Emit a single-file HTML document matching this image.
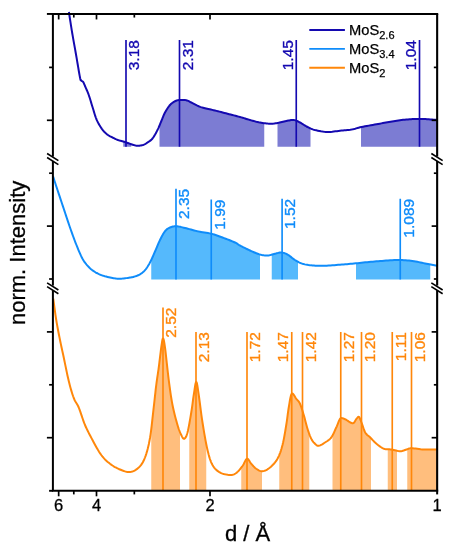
<!DOCTYPE html>
<html><head><meta charset="utf-8"><title>XRD pattern</title>
<style>html,body{margin:0;padding:0;background:#fff}svg{display:block}</style>
</head><body>
<svg width="452" height="550" viewBox="0 0 452 550" font-family="'Liberation Sans', Arial, sans-serif">
<rect width="452" height="550" fill="#fff"/>
<g id="navy">
<path d="M123.25,146.75 L123.25,141.49 L124.11,141.73 L125.00,142.00 L125.89,142.30 L126.80,142.62 L127.71,142.95 L128.62,143.29 L129.52,143.63 L130.39,143.95 L131.22,144.24 L131.25,144.25 L131.25,146.75Z" fill="#7C7CD3"/>
<path d="M159.50,146.75 L159.50,125.53 L159.90,124.54 L160.34,123.44 L160.79,122.35 L161.25,121.25 L161.71,120.15 L162.16,119.03 L162.60,117.91 L163.05,116.80 L163.50,115.69 L163.97,114.60 L164.47,113.53 L165.00,112.50 L165.57,111.48 L166.16,110.45 L166.78,109.43 L167.42,108.44 L168.07,107.48 L168.72,106.58 L169.37,105.75 L170.00,105.00 L170.63,104.33 L171.26,103.74 L171.90,103.21 L172.53,102.73 L173.16,102.31 L173.79,101.92 L174.40,101.57 L175.00,101.25 L175.57,100.96 L176.11,100.73 L176.63,100.53 L177.14,100.38 L177.67,100.25 L178.23,100.15 L178.83,100.07 L179.50,100.00 L180.25,99.95 L181.07,99.91 L181.94,99.90 L182.84,99.91 L183.75,99.94 L184.63,100.01 L185.47,100.11 L186.25,100.25 L186.94,100.43 L187.56,100.64 L188.14,100.88 L188.70,101.16 L189.27,101.46 L189.87,101.79 L190.52,102.13 L191.25,102.50 L192.08,102.91 L192.98,103.37 L193.93,103.87 L194.92,104.39 L195.92,104.91 L196.90,105.40 L197.86,105.85 L198.75,106.25 L199.57,106.58 L200.31,106.87 L201.02,107.12 L201.72,107.34 L202.44,107.56 L203.20,107.77 L204.05,108.00 L205.00,108.25 L206.05,108.51 L207.18,108.77 L208.37,109.03 L209.61,109.30 L210.90,109.57 L212.24,109.86 L213.60,110.17 L215.00,110.50 L216.44,110.86 L217.95,111.24 L219.50,111.65 L221.09,112.06 L222.70,112.49 L224.32,112.91 L225.92,113.34 L227.50,113.75 L229.08,114.16 L230.68,114.57 L232.30,114.98 L233.91,115.39 L235.50,115.80 L237.05,116.21 L238.56,116.61 L240.00,117.00 L241.37,117.39 L242.68,117.78 L243.93,118.17 L245.16,118.55 L246.36,118.92 L247.56,119.29 L248.77,119.65 L250.00,120.00 L251.25,120.34 L252.50,120.69 L253.75,121.03 L255.00,121.36 L256.25,121.68 L257.50,121.97 L258.75,122.25 L260.00,122.50 L261.27,122.73 L262.56,122.95 L263.86,123.15 L264.25,123.20 L264.25,146.75Z" fill="#7C7CD3"/>
<path d="M277.50,146.75 L277.50,123.00 L278.54,122.80 L279.63,122.56 L280.74,122.30 L281.88,122.02 L283.01,121.73 L284.12,121.46 L285.21,121.21 L286.25,121.00 L287.26,120.80 L288.24,120.60 L289.21,120.40 L290.16,120.22 L291.08,120.07 L291.99,119.98 L292.88,119.95 L293.75,120.00 L294.58,120.13 L295.37,120.33 L296.13,120.59 L296.88,120.91 L297.62,121.26 L298.38,121.65 L299.17,122.07 L300.00,122.50 L300.88,122.98 L301.79,123.52 L302.72,124.11 L303.67,124.72 L304.63,125.33 L305.60,125.93 L306.55,126.50 L307.50,127.00 L308.40,127.45 L309.26,127.88 L310.09,128.28 L310.50,128.46 L310.50,146.75Z" fill="#7C7CD3"/>
<path d="M361.00,146.75 L361.00,127.11 L361.50,127.00 L363.15,126.66 L364.96,126.32 L366.87,125.97 L368.84,125.61 L370.84,125.26 L372.81,124.91 L374.71,124.57 L376.50,124.25 L378.18,123.94 L379.80,123.65 L381.37,123.36 L382.91,123.08 L384.42,122.80 L385.93,122.53 L387.45,122.27 L389.00,122.00 L390.56,121.73 L392.12,121.46 L393.69,121.19 L395.25,120.92 L396.81,120.67 L398.38,120.42 L399.94,120.20 L401.50,120.00 L403.08,119.82 L404.68,119.66 L406.30,119.51 L407.91,119.38 L409.50,119.26 L411.05,119.16 L412.56,119.07 L414.00,119.00 L415.35,118.95 L416.61,118.91 L417.80,118.88 L418.97,118.88 L420.14,118.88 L421.35,118.91 L422.62,118.95 L424.00,119.00 L425.48,119.08 L427.04,119.18 L428.66,119.30 L430.31,119.44 L431.99,119.58 L433.68,119.73 L435.35,119.87 L437.00,120.00 L437.00,146.75Z" fill="#7C7CD3"/>
<path d="M68.90,12.00 L69.31,14.62 L69.71,17.23 L70.11,19.83 L70.51,22.44 L70.92,25.05 L71.33,27.68 L71.76,30.33 L72.20,33.00 L72.66,35.70 L73.13,38.42 L73.62,41.15 L74.11,43.91 L74.61,46.67 L75.11,49.44 L75.61,52.22 L76.10,55.00 L76.61,57.92 L77.14,61.05 L77.68,64.26 L78.22,67.44 L78.73,70.47 L79.21,73.23 L79.64,75.62 L80.00,77.50 L80.28,78.82 L80.48,79.66 L80.63,80.12 L80.75,80.31 L80.85,80.34 L80.95,80.31 L81.08,80.33 L81.25,80.50 L81.46,80.74 L81.69,80.92 L81.94,81.06 L82.19,81.19 L82.45,81.32 L82.71,81.48 L82.96,81.70 L83.20,82.00 L83.42,82.35 L83.61,82.71 L83.80,83.10 L83.99,83.53 L84.19,84.02 L84.42,84.59 L84.68,85.24 L85.00,86.00 L85.38,86.87 L85.80,87.83 L86.26,88.88 L86.75,90.00 L87.26,91.19 L87.77,92.42 L88.27,93.70 L88.75,95.00 L89.22,96.36 L89.69,97.79 L90.16,99.29 L90.62,100.83 L91.09,102.39 L91.56,103.95 L92.03,105.49 L92.50,107.00 L92.97,108.51 L93.44,110.06 L93.91,111.62 L94.38,113.17 L94.84,114.68 L95.31,116.13 L95.78,117.50 L96.25,118.75 L96.72,119.89 L97.19,120.93 L97.66,121.89 L98.12,122.78 L98.59,123.63 L99.06,124.43 L99.53,125.22 L100.00,126.00 L100.47,126.76 L100.93,127.49 L101.38,128.18 L101.84,128.84 L102.31,129.48 L102.78,130.09 L103.26,130.68 L103.75,131.25 L104.26,131.80 L104.77,132.32 L105.30,132.82 L105.83,133.30 L106.37,133.75 L106.91,134.19 L107.45,134.60 L108.00,135.00 L108.54,135.37 L109.08,135.71 L109.63,136.03 L110.17,136.33 L110.73,136.62 L111.30,136.90 L111.89,137.20 L112.50,137.50 L113.13,137.82 L113.77,138.14 L114.42,138.46 L115.09,138.78 L115.78,139.10 L116.50,139.41 L117.23,139.71 L118.00,140.00 L118.80,140.27 L119.64,140.52 L120.52,140.76 L121.41,141.00 L122.31,141.24 L123.21,141.48 L124.11,141.73 L125.00,142.00 L125.89,142.30 L126.80,142.62 L127.71,142.95 L128.62,143.29 L129.52,143.63 L130.39,143.95 L131.22,144.24 L132.00,144.50 L132.73,144.73 L133.44,144.94 L134.11,145.14 L134.75,145.32 L135.36,145.48 L135.94,145.61 L136.48,145.72 L137.00,145.80 L137.47,145.85 L137.88,145.87 L138.25,145.86 L138.59,145.83 L138.93,145.78 L139.26,145.73 L139.61,145.66 L140.00,145.60 L140.41,145.54 L140.83,145.48 L141.25,145.41 L141.69,145.33 L142.13,145.24 L142.58,145.12 L143.04,144.98 L143.50,144.80 L143.97,144.60 L144.44,144.37 L144.92,144.12 L145.41,143.85 L145.90,143.55 L146.42,143.23 L146.95,142.88 L147.50,142.50 L148.08,142.11 L148.68,141.73 L149.30,141.32 L149.94,140.89 L150.58,140.40 L151.23,139.86 L151.87,139.23 L152.50,138.50 L153.13,137.65 L153.78,136.70 L154.43,135.65 L155.08,134.55 L155.72,133.40 L156.34,132.25 L156.93,131.11 L157.50,130.00 L158.03,128.92 L158.53,127.83 L159.00,126.74 L159.45,125.64 L159.90,124.54 L160.34,123.44 L160.79,122.35 L161.25,121.25 L161.71,120.15 L162.16,119.03 L162.60,117.91 L163.05,116.80 L163.50,115.69 L163.97,114.60 L164.47,113.53 L165.00,112.50 L165.57,111.48 L166.16,110.45 L166.78,109.43 L167.42,108.44 L168.07,107.48 L168.72,106.58 L169.37,105.75 L170.00,105.00 L170.63,104.33 L171.26,103.74 L171.90,103.21 L172.53,102.73 L173.16,102.31 L173.79,101.92 L174.40,101.57 L175.00,101.25 L175.57,100.96 L176.11,100.73 L176.63,100.53 L177.14,100.38 L177.67,100.25 L178.23,100.15 L178.83,100.07 L179.50,100.00 L180.25,99.95 L181.07,99.91 L181.94,99.90 L182.84,99.91 L183.75,99.94 L184.63,100.01 L185.47,100.11 L186.25,100.25 L186.94,100.43 L187.56,100.64 L188.14,100.88 L188.70,101.16 L189.27,101.46 L189.87,101.79 L190.52,102.13 L191.25,102.50 L192.08,102.91 L192.98,103.37 L193.93,103.87 L194.92,104.39 L195.92,104.91 L196.90,105.40 L197.86,105.85 L198.75,106.25 L199.57,106.58 L200.31,106.87 L201.02,107.12 L201.72,107.34 L202.44,107.56 L203.20,107.77 L204.05,108.00 L205.00,108.25 L206.05,108.51 L207.18,108.77 L208.37,109.03 L209.61,109.30 L210.90,109.57 L212.24,109.86 L213.60,110.17 L215.00,110.50 L216.44,110.86 L217.95,111.24 L219.50,111.65 L221.09,112.06 L222.70,112.49 L224.32,112.91 L225.92,113.34 L227.50,113.75 L229.08,114.16 L230.68,114.57 L232.30,114.98 L233.91,115.39 L235.50,115.80 L237.05,116.21 L238.56,116.61 L240.00,117.00 L241.37,117.39 L242.68,117.78 L243.93,118.17 L245.16,118.55 L246.36,118.92 L247.56,119.29 L248.77,119.65 L250.00,120.00 L251.25,120.34 L252.50,120.69 L253.75,121.03 L255.00,121.36 L256.25,121.68 L257.50,121.97 L258.75,122.25 L260.00,122.50 L261.27,122.73 L262.56,122.95 L263.86,123.15 L265.16,123.33 L266.43,123.48 L267.68,123.61 L268.87,123.70 L270.00,123.75 L271.05,123.76 L272.02,123.73 L272.94,123.67 L273.83,123.58 L274.71,123.46 L275.60,123.32 L276.52,123.17 L277.50,123.00 L278.54,122.80 L279.63,122.56 L280.74,122.30 L281.88,122.02 L283.01,121.73 L284.12,121.46 L285.21,121.21 L286.25,121.00 L287.26,120.80 L288.24,120.60 L289.21,120.40 L290.16,120.22 L291.08,120.07 L291.99,119.98 L292.88,119.95 L293.75,120.00 L294.58,120.13 L295.37,120.33 L296.13,120.59 L296.88,120.91 L297.62,121.26 L298.38,121.65 L299.17,122.07 L300.00,122.50 L300.88,122.98 L301.79,123.52 L302.72,124.11 L303.67,124.72 L304.63,125.33 L305.60,125.93 L306.55,126.50 L307.50,127.00 L308.40,127.45 L309.26,127.88 L310.09,128.28 L310.94,128.66 L311.82,129.01 L312.77,129.36 L313.82,129.68 L315.00,130.00 L316.32,130.32 L317.77,130.65 L319.32,130.97 L320.94,131.27 L322.59,131.53 L324.26,131.75 L325.90,131.91 L327.50,132.00 L329.07,132.00 L330.65,131.92 L332.23,131.77 L333.81,131.58 L335.39,131.36 L336.95,131.14 L338.49,130.93 L340.00,130.75 L341.50,130.60 L342.98,130.47 L344.45,130.34 L345.91,130.20 L347.34,130.06 L348.75,129.90 L350.14,129.72 L351.50,129.50 L352.79,129.25 L353.99,128.97 L355.14,128.67 L356.28,128.34 L357.45,128.01 L358.68,127.67 L360.02,127.33 L361.50,127.00 L363.15,126.66 L364.96,126.32 L366.87,125.97 L368.84,125.61 L370.84,125.26 L372.81,124.91 L374.71,124.57 L376.50,124.25 L378.18,123.94 L379.80,123.65 L381.37,123.36 L382.91,123.08 L384.42,122.80 L385.93,122.53 L387.45,122.27 L389.00,122.00 L390.56,121.73 L392.12,121.46 L393.69,121.19 L395.25,120.92 L396.81,120.67 L398.38,120.42 L399.94,120.20 L401.50,120.00 L403.08,119.82 L404.68,119.66 L406.30,119.51 L407.91,119.38 L409.50,119.26 L411.05,119.16 L412.56,119.07 L414.00,119.00 L415.35,118.95 L416.61,118.91 L417.80,118.88 L418.97,118.88 L420.14,118.88 L421.35,118.91 L422.62,118.95 L424.00,119.00 L425.48,119.08 L427.04,119.18 L428.66,119.30 L430.31,119.44 L431.99,119.58 L433.68,119.73 L435.35,119.87 L437.00,120.00" fill="none" stroke="#1409B0" stroke-width="2" stroke-linejoin="round" stroke-linecap="butt"/>
<line x1="126" x2="126" y1="40" y2="146.75" stroke="#1409B0" stroke-width="1.65"/>
<text transform="translate(139.30,40.10) rotate(-90)" text-anchor="end" font-size="15.5" fill="#1409B0" stroke="#1409B0" stroke-width="0.35">3.18</text>
<line x1="179.5" x2="179.5" y1="40" y2="146.75" stroke="#1409B0" stroke-width="1.65"/>
<text transform="translate(192.80,40.10) rotate(-90)" text-anchor="end" font-size="15.5" fill="#1409B0" stroke="#1409B0" stroke-width="0.35">2.31</text>
<line x1="296.25" x2="296.25" y1="40" y2="146.75" stroke="#1409B0" stroke-width="1.65"/>
<text transform="translate(292.85,40.10) rotate(-90)" text-anchor="end" font-size="15.5" fill="#1409B0" stroke="#1409B0" stroke-width="0.35">1.45</text>
<line x1="419.5" x2="419.5" y1="40" y2="146.75" stroke="#1409B0" stroke-width="1.65"/>
<text transform="translate(416.10,40.10) rotate(-90)" text-anchor="end" font-size="15.5" fill="#1409B0" stroke="#1409B0" stroke-width="0.35">1.04</text>
</g>
<g id="blue">
<path d="M151.25,279.50 L151.25,259.99 L151.88,258.64 L152.50,257.24 L153.12,255.81 L153.75,254.36 L154.38,252.92 L155.00,251.50 L155.62,250.07 L156.25,248.60 L156.88,247.10 L157.50,245.61 L158.12,244.13 L158.75,242.69 L159.38,241.31 L160.00,240.00 L160.62,238.74 L161.25,237.50 L161.88,236.30 L162.50,235.14 L163.12,234.04 L163.75,233.02 L164.38,232.09 L165.00,231.25 L165.62,230.52 L166.22,229.90 L166.82,229.37 L167.42,228.91 L168.03,228.50 L168.66,228.14 L169.32,227.81 L170.00,227.50 L170.70,227.20 L171.42,226.94 L172.14,226.72 L172.89,226.53 L173.67,226.39 L174.48,226.29 L175.34,226.25 L176.25,226.25 L177.20,226.31 L178.17,226.44 L179.18,226.62 L180.23,226.84 L181.33,227.10 L182.49,227.39 L183.71,227.69 L185.00,228.00 L186.37,228.34 L187.83,228.72 L189.36,229.14 L190.94,229.58 L192.56,230.02 L194.20,230.46 L195.85,230.87 L197.50,231.25 L199.18,231.59 L200.91,231.90 L202.67,232.19 L204.45,232.47 L206.22,232.75 L207.96,233.05 L209.64,233.38 L211.25,233.75 L212.77,234.15 L214.21,234.57 L215.60,235.01 L216.95,235.47 L218.30,235.95 L219.66,236.45 L221.05,236.96 L222.50,237.50 L224.05,238.08 L225.71,238.71 L227.43,239.37 L229.14,240.05 L230.81,240.72 L232.37,241.36 L233.79,241.96 L235.00,242.50 L235.95,242.96 L236.66,243.34 L237.20,243.68 L237.66,244.00 L238.09,244.32 L238.57,244.66 L239.19,245.04 L240.00,245.50 L241.01,246.04 L242.15,246.63 L243.38,247.27 L244.69,247.94 L246.03,248.61 L247.38,249.27 L248.72,249.91 L250.00,250.50 L251.27,251.07 L252.56,251.64 L253.86,252.21 L255.16,252.75 L256.43,253.26 L257.68,253.73 L258.87,254.15 L260.00,254.50 L260.00,279.50Z" fill="#55B9FC"/>
<path d="M271.75,279.50 L271.75,254.64 L272.28,254.49 L273.21,254.22 L274.12,253.96 L275.00,253.75 L275.84,253.55 L276.65,253.33 L277.44,253.10 L278.20,252.89 L278.96,252.71 L279.72,252.57 L280.48,252.50 L281.25,252.50 L282.02,252.57 L282.78,252.69 L283.54,252.86 L284.30,253.08 L285.06,253.35 L285.85,253.68 L286.66,254.06 L287.50,254.50 L288.38,255.03 L289.29,255.67 L290.22,256.38 L291.17,257.14 L292.13,257.91 L293.10,258.67 L294.05,259.37 L295.00,260.00 L295.92,260.57 L296.82,261.11 L297.70,261.62 L298.00,261.78 L298.00,279.50Z" fill="#55B9FC"/>
<path d="M356.00,279.50 L356.00,263.31 L357.68,263.14 L359.55,262.95 L361.44,262.75 L363.33,262.56 L365.23,262.36 L367.12,262.18 L369.00,262.00 L370.87,261.83 L372.72,261.66 L374.57,261.49 L376.42,261.33 L378.28,261.17 L380.16,261.02 L382.07,260.88 L384.00,260.75 L385.99,260.62 L388.03,260.48 L390.11,260.34 L392.20,260.22 L394.28,260.11 L396.33,260.04 L398.33,259.99 L400.25,260.00 L402.10,260.05 L403.89,260.14 L405.64,260.27 L407.36,260.42 L409.05,260.60 L410.71,260.80 L412.36,261.02 L414.00,261.25 L415.64,261.51 L417.26,261.80 L418.87,262.12 L420.45,262.45 L422.01,262.79 L423.54,263.13 L425.04,263.45 L426.50,263.75 L427.91,264.02 L429.27,264.29 L430.25,264.47 L430.25,279.50Z" fill="#55B9FC"/>
<path d="M53.00,176.25 L53.55,177.93 L54.08,179.57 L54.61,181.19 L55.14,182.81 L55.68,184.48 L56.25,186.21 L56.85,188.04 L57.50,190.00 L58.20,192.10 L58.94,194.34 L59.72,196.67 L60.52,199.06 L61.33,201.50 L62.15,203.95 L62.96,206.37 L63.75,208.75 L64.53,211.11 L65.31,213.48 L66.09,215.86 L66.88,218.23 L67.66,220.60 L68.44,222.94 L69.22,225.24 L70.00,227.50 L70.78,229.73 L71.56,231.94 L72.34,234.12 L73.12,236.28 L73.91,238.40 L74.69,240.48 L75.47,242.52 L76.25,244.50 L77.03,246.45 L77.81,248.40 L78.59,250.31 L79.38,252.17 L80.16,253.97 L80.94,255.67 L81.72,257.27 L82.50,258.75 L83.28,260.09 L84.06,261.31 L84.84,262.43 L85.62,263.45 L86.41,264.41 L87.19,265.31 L87.97,266.17 L88.75,267.00 L89.52,267.79 L90.28,268.51 L91.04,269.18 L91.80,269.80 L92.56,270.38 L93.35,270.93 L94.16,271.47 L95.00,272.00 L95.86,272.52 L96.73,273.00 L97.61,273.47 L98.52,273.91 L99.45,274.33 L100.42,274.73 L101.43,275.12 L102.50,275.50 L103.65,275.87 L104.88,276.24 L106.18,276.59 L107.50,276.92 L108.82,277.23 L110.12,277.52 L111.35,277.78 L112.50,278.00 L113.54,278.19 L114.49,278.36 L115.39,278.49 L116.25,278.60 L117.11,278.68 L118.01,278.74 L118.96,278.76 L120.00,278.75 L121.16,278.70 L122.44,278.60 L123.79,278.46 L125.16,278.30 L126.51,278.12 L127.79,277.94 L128.97,277.76 L130.00,277.60 L130.86,277.46 L131.60,277.32 L132.24,277.19 L132.81,277.06 L133.34,276.92 L133.87,276.76 L134.41,276.59 L135.00,276.40 L135.62,276.19 L136.25,275.99 L136.88,275.77 L137.50,275.53 L138.12,275.27 L138.75,274.99 L139.38,274.66 L140.00,274.30 L140.62,273.91 L141.25,273.50 L141.88,273.07 L142.50,272.60 L143.12,272.09 L143.75,271.53 L144.38,270.90 L145.00,270.20 L145.62,269.43 L146.25,268.61 L146.88,267.72 L147.50,266.78 L148.12,265.79 L148.75,264.74 L149.38,263.65 L150.00,262.50 L150.62,261.29 L151.25,259.99 L151.88,258.64 L152.50,257.24 L153.12,255.81 L153.75,254.36 L154.38,252.92 L155.00,251.50 L155.62,250.07 L156.25,248.60 L156.88,247.10 L157.50,245.61 L158.12,244.13 L158.75,242.69 L159.38,241.31 L160.00,240.00 L160.62,238.74 L161.25,237.50 L161.88,236.30 L162.50,235.14 L163.12,234.04 L163.75,233.02 L164.38,232.09 L165.00,231.25 L165.62,230.52 L166.22,229.90 L166.82,229.37 L167.42,228.91 L168.03,228.50 L168.66,228.14 L169.32,227.81 L170.00,227.50 L170.70,227.20 L171.42,226.94 L172.14,226.72 L172.89,226.53 L173.67,226.39 L174.48,226.29 L175.34,226.25 L176.25,226.25 L177.20,226.31 L178.17,226.44 L179.18,226.62 L180.23,226.84 L181.33,227.10 L182.49,227.39 L183.71,227.69 L185.00,228.00 L186.37,228.34 L187.83,228.72 L189.36,229.14 L190.94,229.58 L192.56,230.02 L194.20,230.46 L195.85,230.87 L197.50,231.25 L199.18,231.59 L200.91,231.90 L202.67,232.19 L204.45,232.47 L206.22,232.75 L207.96,233.05 L209.64,233.38 L211.25,233.75 L212.77,234.15 L214.21,234.57 L215.60,235.01 L216.95,235.47 L218.30,235.95 L219.66,236.45 L221.05,236.96 L222.50,237.50 L224.05,238.08 L225.71,238.71 L227.43,239.37 L229.14,240.05 L230.81,240.72 L232.37,241.36 L233.79,241.96 L235.00,242.50 L235.95,242.96 L236.66,243.34 L237.20,243.68 L237.66,244.00 L238.09,244.32 L238.57,244.66 L239.19,245.04 L240.00,245.50 L241.01,246.04 L242.15,246.63 L243.38,247.27 L244.69,247.94 L246.03,248.61 L247.38,249.27 L248.72,249.91 L250.00,250.50 L251.27,251.07 L252.56,251.64 L253.86,252.21 L255.16,252.75 L256.43,253.26 L257.68,253.73 L258.87,254.15 L260.00,254.50 L261.06,254.79 L262.05,255.03 L263.00,255.22 L263.91,255.36 L264.80,255.46 L265.68,255.51 L266.58,255.53 L267.50,255.50 L268.45,255.41 L269.40,255.24 L270.37,255.02 L271.33,254.77 L272.28,254.49 L273.21,254.22 L274.12,253.96 L275.00,253.75 L275.84,253.55 L276.65,253.33 L277.44,253.10 L278.20,252.89 L278.96,252.71 L279.72,252.57 L280.48,252.50 L281.25,252.50 L282.02,252.57 L282.78,252.69 L283.54,252.86 L284.30,253.08 L285.06,253.35 L285.85,253.68 L286.66,254.06 L287.50,254.50 L288.38,255.03 L289.29,255.67 L290.22,256.38 L291.17,257.14 L292.13,257.91 L293.10,258.67 L294.05,259.37 L295.00,260.00 L295.92,260.57 L296.82,261.11 L297.70,261.62 L298.59,262.11 L299.50,262.57 L300.45,262.99 L301.44,263.39 L302.50,263.75 L303.61,264.07 L304.77,264.36 L305.96,264.62 L307.19,264.84 L308.46,265.04 L309.77,265.21 L311.11,265.37 L312.50,265.50 L313.93,265.61 L315.39,265.70 L316.89,265.76 L318.44,265.80 L320.02,265.82 L321.64,265.81 L323.30,265.79 L325.00,265.75 L326.76,265.68 L328.60,265.58 L330.49,265.46 L332.41,265.32 L334.34,265.16 L336.26,265.00 L338.16,264.85 L340.00,264.70 L341.79,264.56 L343.55,264.42 L345.28,264.27 L347.00,264.13 L348.72,263.98 L350.45,263.82 L352.21,263.67 L354.00,263.50 L355.83,263.33 L357.68,263.14 L359.55,262.95 L361.44,262.75 L363.33,262.56 L365.23,262.36 L367.12,262.18 L369.00,262.00 L370.87,261.83 L372.72,261.66 L374.57,261.49 L376.42,261.33 L378.28,261.17 L380.16,261.02 L382.07,260.88 L384.00,260.75 L385.99,260.62 L388.03,260.48 L390.11,260.34 L392.20,260.22 L394.28,260.11 L396.33,260.04 L398.33,259.99 L400.25,260.00 L402.10,260.05 L403.89,260.14 L405.64,260.27 L407.36,260.42 L409.05,260.60 L410.71,260.80 L412.36,261.02 L414.00,261.25 L415.64,261.51 L417.26,261.80 L418.87,262.12 L420.45,262.45 L422.01,262.79 L423.54,263.13 L425.04,263.45 L426.50,263.75 L427.91,264.02 L429.27,264.29 L430.58,264.54 L431.88,264.78 L433.15,265.02 L434.42,265.26 L435.70,265.50 L437.00,265.75" fill="none" stroke="#0F8CFA" stroke-width="2" stroke-linejoin="round" stroke-linecap="butt"/>
<line x1="176" x2="176" y1="188.75" y2="279.5" stroke="#0F8CFA" stroke-width="1.65"/>
<text transform="translate(189.30,188.85) rotate(-90)" text-anchor="end" font-size="15.5" fill="#0F8CFA" stroke="#0F8CFA" stroke-width="0.35">2.35</text>
<line x1="211.25" x2="211.25" y1="199.5" y2="279.5" stroke="#0F8CFA" stroke-width="1.65"/>
<text transform="translate(224.55,199.60) rotate(-90)" text-anchor="end" font-size="15.5" fill="#0F8CFA" stroke="#0F8CFA" stroke-width="0.35">1.99</text>
<line x1="282.1" x2="282.1" y1="198.75" y2="279.5" stroke="#0F8CFA" stroke-width="1.65"/>
<text transform="translate(295.40,198.85) rotate(-90)" text-anchor="end" font-size="15.5" fill="#0F8CFA" stroke="#0F8CFA" stroke-width="0.35">1.52</text>
<line x1="400.25" x2="400.25" y1="198.75" y2="279.5" stroke="#0F8CFA" stroke-width="1.65"/>
<text transform="translate(413.55,198.85) rotate(-90)" text-anchor="end" font-size="15.5" fill="#0F8CFA" stroke="#0F8CFA" stroke-width="0.35">1.089</text>
</g>
<g id="orange">
<path d="M151.25,490.00 L151.25,429.27 L151.55,426.82 L152.03,422.66 L152.49,418.47 L152.93,414.39 L153.35,410.52 L153.75,407.00 L154.12,403.79 L154.46,400.76 L154.78,397.89 L155.08,395.16 L155.37,392.52 L155.65,389.97 L155.95,387.47 L156.25,385.00 L156.56,382.61 L156.88,380.37 L157.19,378.22 L157.50,376.12 L157.81,374.05 L158.12,371.95 L158.44,369.78 L158.75,367.50 L159.07,365.04 L159.39,362.42 L159.72,359.70 L160.05,356.97 L160.37,354.30 L160.68,351.79 L160.97,349.49 L161.25,347.50 L161.50,345.73 L161.73,344.05 L161.95,342.53 L162.16,341.19 L162.36,340.07 L162.56,339.23 L162.77,338.69 L163.00,338.50 L163.23,338.60 L163.44,338.93 L163.65,339.52 L163.88,340.41 L164.11,341.61 L164.37,343.18 L164.66,345.13 L165.00,347.50 L165.39,350.49 L165.81,354.15 L166.28,358.30 L166.77,362.75 L167.27,367.33 L167.77,371.85 L168.27,376.14 L168.75,380.00 L169.21,383.52 L169.66,386.89 L170.10,390.14 L170.55,393.28 L171.00,396.32 L171.47,399.28 L171.97,402.17 L172.50,405.00 L173.07,407.81 L173.69,410.59 L174.34,413.31 L175.00,415.94 L175.66,418.45 L176.31,420.82 L176.93,423.01 L177.50,425.00 L178.03,426.77 L178.54,428.35 L179.03,429.76 L179.50,431.02 L179.95,432.15 L180.00,432.26 L180.00,490.00Z" fill="#FFBE7D"/>
<path d="M189.25,490.00 L189.25,424.13 L189.42,423.20 L189.91,420.42 L190.39,417.65 L190.84,414.97 L191.25,412.50 L191.62,410.16 L191.96,407.84 L192.28,405.56 L192.58,403.31 L192.87,401.12 L193.15,399.00 L193.45,396.96 L193.75,395.00 L194.06,392.98 L194.38,390.82 L194.69,388.65 L195.00,386.59 L195.31,384.77 L195.62,383.32 L195.94,382.35 L196.25,382.00 L196.55,382.28 L196.85,383.08 L197.13,384.33 L197.42,385.97 L197.72,387.92 L198.04,390.12 L198.38,392.50 L198.75,395.00 L199.15,397.74 L199.57,400.86 L200.01,404.25 L200.47,407.84 L200.95,411.55 L201.45,415.29 L201.96,418.96 L202.50,422.50 L203.07,426.02 L203.66,429.67 L204.28,433.36 L204.92,437.03 L205.57,440.60 L206.22,444.00 L206.25,444.15 L206.25,490.00Z" fill="#FFBE7D"/>
<path d="M241.25,490.00 L241.25,467.64 L241.80,466.92 L242.50,466.00 L243.15,465.02 L243.75,463.92 L244.33,462.76 L244.88,461.62 L245.41,460.58 L245.93,459.71 L246.46,459.07 L247.00,458.75 L247.54,458.79 L248.06,459.14 L248.58,459.73 L249.09,460.48 L249.61,461.34 L250.14,462.21 L250.68,463.04 L251.25,463.75 L251.83,464.39 L252.42,465.06 L253.02,465.73 L253.62,466.41 L254.25,467.06 L254.89,467.68 L255.56,468.24 L256.25,468.75 L256.96,469.22 L257.70,469.70 L258.45,470.15 L259.22,470.55 L260.01,470.88 L260.82,471.12 L261.65,471.25 L262.00,471.25 L262.00,490.00Z" fill="#FFBE7D"/>
<path d="M279.25,490.00 L279.25,455.10 L279.61,454.23 L280.23,452.58 L280.83,450.83 L281.40,448.99 L281.95,447.05 L282.50,445.00 L283.04,442.78 L283.55,440.38 L284.05,437.85 L284.53,435.23 L284.99,432.59 L285.43,429.97 L285.85,427.42 L286.25,425.00 L286.62,422.67 L286.95,420.36 L287.26,418.09 L287.55,415.86 L287.83,413.68 L288.12,411.55 L288.42,409.49 L288.75,407.50 L289.09,405.47 L289.43,403.36 L289.77,401.25 L290.12,399.22 L290.49,397.37 L290.88,395.78 L291.30,394.55 L291.75,393.75 L292.25,393.48 L292.79,393.68 L293.36,394.25 L293.95,395.08 L294.55,396.05 L295.14,397.06 L295.71,398.00 L296.25,398.75 L296.75,399.33 L297.24,399.85 L297.71,400.35 L298.17,400.86 L298.63,401.42 L299.08,402.06 L299.54,402.83 L300.00,403.75 L300.47,404.84 L300.94,406.06 L301.41,407.40 L301.88,408.83 L302.34,410.32 L302.81,411.87 L303.28,413.43 L303.75,415.00 L304.22,416.62 L304.69,418.35 L305.16,420.14 L305.62,421.95 L306.09,423.76 L306.56,425.52 L307.03,427.19 L307.50,428.75 L307.97,430.21 L308.44,431.63 L308.91,432.99 L309.25,433.95 L309.25,490.00Z" fill="#FFBE7D"/>
<path d="M332.50,490.00 L332.50,435.52 L332.62,435.32 L333.27,434.05 L333.91,432.72 L334.52,431.37 L335.12,430.02 L335.69,428.72 L336.25,427.50 L336.79,426.30 L337.30,425.06 L337.80,423.82 L338.28,422.61 L338.74,421.48 L339.18,420.45 L339.60,419.58 L340.00,418.90 L340.37,418.43 L340.71,418.15 L341.02,418.02 L341.31,418.00 L341.60,418.06 L341.89,418.15 L342.18,418.24 L342.50,418.30 L342.80,418.33 L343.06,418.37 L343.30,418.43 L343.56,418.52 L343.86,418.64 L344.22,418.81 L344.68,419.02 L345.25,419.30 L345.99,419.71 L346.88,420.28 L347.88,420.94 L348.94,421.62 L350.00,422.26 L351.03,422.79 L351.96,423.14 L352.75,423.25 L353.41,423.07 L353.98,422.65 L354.49,422.06 L354.94,421.36 L355.35,420.61 L355.74,419.88 L356.12,419.24 L356.50,418.75 L356.87,418.35 L357.21,417.95 L357.53,417.57 L357.83,417.25 L358.12,417.00 L358.40,416.86 L358.70,416.85 L359.00,417.00 L359.30,417.31 L359.60,417.76 L359.88,418.33 L360.17,419.02 L360.47,419.79 L360.79,420.64 L361.13,421.55 L361.50,422.50 L361.90,423.57 L362.32,424.80 L362.76,426.14 L363.22,427.53 L363.70,428.92 L364.20,430.25 L364.71,431.46 L365.25,432.50 L365.81,433.36 L366.38,434.07 L366.98,434.69 L367.59,435.23 L368.23,435.75 L368.88,436.28 L369.56,436.85 L370.25,437.50 L370.96,438.23 L371.00,438.27 L371.00,490.00Z" fill="#FFBE7D"/>
<path d="M387.75,490.00 L387.75,449.33 L388.60,449.33 L389.54,449.34 L390.50,449.39 L391.50,449.50 L392.55,449.69 L393.66,449.95 L394.80,450.24 L395.95,450.53 L397.00,450.78 L397.00,490.00Z" fill="#FFBE7D"/>
<path d="M407.25,490.00 L407.25,449.26 L407.66,449.09 L408.14,448.88 L408.61,448.69 L409.13,448.51 L409.75,448.38 L410.52,448.28 L411.50,448.25 L412.70,448.30 L414.09,448.42 L415.62,448.59 L417.25,448.80 L418.95,449.01 L420.66,449.22 L422.36,449.39 L424.00,449.50 L425.60,449.56 L427.21,449.59 L428.84,449.59 L430.47,449.58 L432.10,449.55 L433.74,449.53 L435.37,449.51 L437.00,449.50 L437.00,490.00Z" fill="#FFBE7D"/>
<path d="M53.25,298.75 L53.62,301.41 L53.98,304.09 L54.34,306.77 L54.70,309.45 L55.07,312.12 L55.45,314.78 L55.84,317.40 L56.25,320.00 L56.68,322.58 L57.13,325.15 L57.60,327.70 L58.08,330.23 L58.56,332.74 L59.04,335.21 L59.53,337.63 L60.00,340.00 L60.46,342.27 L60.91,344.41 L61.35,346.48 L61.80,348.53 L62.25,350.61 L62.72,352.76 L63.22,355.04 L63.75,357.50 L64.32,360.19 L64.91,363.11 L65.53,366.16 L66.17,369.28 L66.82,372.40 L67.47,375.44 L68.12,378.33 L68.75,381.00 L69.38,383.49 L70.00,385.88 L70.62,388.18 L71.25,390.38 L71.88,392.46 L72.50,394.43 L73.12,396.28 L73.75,398.00 L74.37,399.49 L74.97,400.71 L75.57,401.76 L76.17,402.72 L76.78,403.68 L77.41,404.74 L78.07,405.98 L78.75,407.50 L79.46,409.32 L80.20,411.37 L80.95,413.59 L81.72,415.91 L82.51,418.27 L83.32,420.61 L84.15,422.88 L85.00,425.00 L85.87,426.99 L86.76,428.93 L87.67,430.81 L88.59,432.66 L89.54,434.48 L90.51,436.31 L91.49,438.14 L92.50,440.00 L93.53,441.92 L94.60,443.90 L95.69,445.90 L96.80,447.89 L97.91,449.83 L99.03,451.69 L100.15,453.42 L101.25,455.00 L102.34,456.41 L103.41,457.70 L104.48,458.87 L105.55,459.95 L106.63,460.96 L107.72,461.92 L108.85,462.84 L110.00,463.75 L111.19,464.63 L112.41,465.47 L113.66,466.27 L114.92,467.02 L116.20,467.71 L117.47,468.36 L118.74,468.96 L120.00,469.50 L121.26,470.02 L122.53,470.52 L123.80,470.98 L125.08,471.39 L126.34,471.72 L127.59,471.94 L128.81,472.04 L130.00,472.00 L131.17,471.81 L132.33,471.50 L133.48,471.07 L134.61,470.53 L135.71,469.90 L136.77,469.18 L137.78,468.37 L138.75,467.50 L139.66,466.58 L140.52,465.61 L141.33,464.57 L142.11,463.44 L142.86,462.19 L143.58,460.80 L144.30,459.24 L145.00,457.50 L145.69,455.60 L146.37,453.56 L147.02,451.39 L147.66,449.06 L148.27,446.57 L148.87,443.91 L149.44,441.05 L150.00,438.00 L150.54,434.61 L151.05,430.85 L151.55,426.82 L152.03,422.66 L152.49,418.47 L152.93,414.39 L153.35,410.52 L153.75,407.00 L154.12,403.79 L154.46,400.76 L154.78,397.89 L155.08,395.16 L155.37,392.52 L155.65,389.97 L155.95,387.47 L156.25,385.00 L156.56,382.61 L156.88,380.37 L157.19,378.22 L157.50,376.12 L157.81,374.05 L158.12,371.95 L158.44,369.78 L158.75,367.50 L159.07,365.04 L159.39,362.42 L159.72,359.70 L160.05,356.97 L160.37,354.30 L160.68,351.79 L160.97,349.49 L161.25,347.50 L161.50,345.73 L161.73,344.05 L161.95,342.53 L162.16,341.19 L162.36,340.07 L162.56,339.23 L162.77,338.69 L163.00,338.50 L163.23,338.60 L163.44,338.93 L163.65,339.52 L163.88,340.41 L164.11,341.61 L164.37,343.18 L164.66,345.13 L165.00,347.50 L165.39,350.49 L165.81,354.15 L166.28,358.30 L166.77,362.75 L167.27,367.33 L167.77,371.85 L168.27,376.14 L168.75,380.00 L169.21,383.52 L169.66,386.89 L170.10,390.14 L170.55,393.28 L171.00,396.32 L171.47,399.28 L171.97,402.17 L172.50,405.00 L173.07,407.81 L173.69,410.59 L174.34,413.31 L175.00,415.94 L175.66,418.45 L176.31,420.82 L176.93,423.01 L177.50,425.00 L178.03,426.77 L178.54,428.35 L179.03,429.76 L179.50,431.02 L179.95,432.15 L180.39,433.17 L180.83,434.12 L181.25,435.00 L181.66,435.84 L182.05,436.61 L182.42,437.30 L182.78,437.89 L183.14,438.35 L183.50,438.66 L183.87,438.80 L184.25,438.75 L184.64,438.54 L185.03,438.21 L185.43,437.74 L185.83,437.11 L186.23,436.29 L186.65,435.26 L187.07,434.01 L187.50,432.50 L187.95,430.64 L188.43,428.41 L188.92,425.90 L189.42,423.20 L189.91,420.42 L190.39,417.65 L190.84,414.97 L191.25,412.50 L191.62,410.16 L191.96,407.84 L192.28,405.56 L192.58,403.31 L192.87,401.12 L193.15,399.00 L193.45,396.96 L193.75,395.00 L194.06,392.98 L194.38,390.82 L194.69,388.65 L195.00,386.59 L195.31,384.77 L195.62,383.32 L195.94,382.35 L196.25,382.00 L196.55,382.28 L196.85,383.08 L197.13,384.33 L197.42,385.97 L197.72,387.92 L198.04,390.12 L198.38,392.50 L198.75,395.00 L199.15,397.74 L199.57,400.86 L200.01,404.25 L200.47,407.84 L200.95,411.55 L201.45,415.29 L201.96,418.96 L202.50,422.50 L203.07,426.02 L203.66,429.67 L204.28,433.36 L204.92,437.03 L205.57,440.60 L206.22,444.00 L206.87,447.16 L207.50,450.00 L208.11,452.52 L208.69,454.80 L209.27,456.87 L209.84,458.75 L210.44,460.47 L211.07,462.07 L211.76,463.57 L212.50,465.00 L213.30,466.33 L214.14,467.52 L215.02,468.58 L215.94,469.53 L216.89,470.38 L217.89,471.15 L218.93,471.85 L220.00,472.50 L221.16,473.08 L222.41,473.58 L223.73,474.00 L225.08,474.34 L226.41,474.61 L227.71,474.81 L228.91,474.94 L230.00,475.00 L230.96,475.00 L231.83,474.93 L232.62,474.80 L233.36,474.59 L234.07,474.31 L234.78,473.96 L235.49,473.52 L236.25,473.00 L237.04,472.37 L237.85,471.61 L238.67,470.75 L239.48,469.83 L240.28,468.86 L241.06,467.88 L241.80,466.92 L242.50,466.00 L243.15,465.02 L243.75,463.92 L244.33,462.76 L244.88,461.62 L245.41,460.58 L245.93,459.71 L246.46,459.07 L247.00,458.75 L247.54,458.79 L248.06,459.14 L248.58,459.73 L249.09,460.48 L249.61,461.34 L250.14,462.21 L250.68,463.04 L251.25,463.75 L251.83,464.39 L252.42,465.06 L253.02,465.73 L253.62,466.41 L254.25,467.06 L254.89,467.68 L255.56,468.24 L256.25,468.75 L256.96,469.22 L257.70,469.70 L258.45,470.15 L259.22,470.55 L260.01,470.88 L260.82,471.12 L261.65,471.25 L262.50,471.25 L263.38,471.11 L264.29,470.87 L265.22,470.52 L266.17,470.08 L267.13,469.55 L268.10,468.94 L269.05,468.25 L270.00,467.50 L270.95,466.68 L271.93,465.78 L272.92,464.80 L273.91,463.75 L274.87,462.62 L275.80,461.41 L276.68,460.12 L277.50,458.75 L278.25,457.31 L278.96,455.81 L279.61,454.23 L280.23,452.58 L280.83,450.83 L281.40,448.99 L281.95,447.05 L282.50,445.00 L283.04,442.78 L283.55,440.38 L284.05,437.85 L284.53,435.23 L284.99,432.59 L285.43,429.97 L285.85,427.42 L286.25,425.00 L286.62,422.67 L286.95,420.36 L287.26,418.09 L287.55,415.86 L287.83,413.68 L288.12,411.55 L288.42,409.49 L288.75,407.50 L289.09,405.47 L289.43,403.36 L289.77,401.25 L290.12,399.22 L290.49,397.37 L290.88,395.78 L291.30,394.55 L291.75,393.75 L292.25,393.48 L292.79,393.68 L293.36,394.25 L293.95,395.08 L294.55,396.05 L295.14,397.06 L295.71,398.00 L296.25,398.75 L296.75,399.33 L297.24,399.85 L297.71,400.35 L298.17,400.86 L298.63,401.42 L299.08,402.06 L299.54,402.83 L300.00,403.75 L300.47,404.84 L300.94,406.06 L301.41,407.40 L301.88,408.83 L302.34,410.32 L302.81,411.87 L303.28,413.43 L303.75,415.00 L304.22,416.62 L304.69,418.35 L305.16,420.14 L305.62,421.95 L306.09,423.76 L306.56,425.52 L307.03,427.19 L307.50,428.75 L307.97,430.21 L308.44,431.63 L308.91,432.99 L309.38,434.30 L309.84,435.53 L310.31,436.69 L310.78,437.76 L311.25,438.75 L311.72,439.63 L312.19,440.42 L312.66,441.12 L313.12,441.75 L313.59,442.31 L314.06,442.83 L314.53,443.30 L315.00,443.75 L315.45,444.18 L315.88,444.58 L316.30,444.95 L316.72,445.27 L317.16,445.52 L317.64,445.69 L318.16,445.77 L318.75,445.75 L319.41,445.61 L320.14,445.35 L320.91,444.99 L321.72,444.56 L322.55,444.08 L323.38,443.56 L324.20,443.03 L325.00,442.50 L325.79,441.99 L326.59,441.49 L327.40,440.97 L328.20,440.42 L329.00,439.82 L329.78,439.14 L330.53,438.38 L331.25,437.50 L331.94,436.48 L332.62,435.32 L333.27,434.05 L333.91,432.72 L334.52,431.37 L335.12,430.02 L335.69,428.72 L336.25,427.50 L336.79,426.30 L337.30,425.06 L337.80,423.82 L338.28,422.61 L338.74,421.48 L339.18,420.45 L339.60,419.58 L340.00,418.90 L340.37,418.43 L340.71,418.15 L341.02,418.02 L341.31,418.00 L341.60,418.06 L341.89,418.15 L342.18,418.24 L342.50,418.30 L342.80,418.33 L343.06,418.37 L343.30,418.43 L343.56,418.52 L343.86,418.64 L344.22,418.81 L344.68,419.02 L345.25,419.30 L345.99,419.71 L346.88,420.28 L347.88,420.94 L348.94,421.62 L350.00,422.26 L351.03,422.79 L351.96,423.14 L352.75,423.25 L353.41,423.07 L353.98,422.65 L354.49,422.06 L354.94,421.36 L355.35,420.61 L355.74,419.88 L356.12,419.24 L356.50,418.75 L356.87,418.35 L357.21,417.95 L357.53,417.57 L357.83,417.25 L358.12,417.00 L358.40,416.86 L358.70,416.85 L359.00,417.00 L359.30,417.31 L359.60,417.76 L359.88,418.33 L360.17,419.02 L360.47,419.79 L360.79,420.64 L361.13,421.55 L361.50,422.50 L361.90,423.57 L362.32,424.80 L362.76,426.14 L363.22,427.53 L363.70,428.92 L364.20,430.25 L364.71,431.46 L365.25,432.50 L365.81,433.36 L366.38,434.07 L366.98,434.69 L367.59,435.23 L368.23,435.75 L368.88,436.28 L369.56,436.85 L370.25,437.50 L370.96,438.23 L371.70,439.00 L372.45,439.81 L373.22,440.62 L374.01,441.44 L374.82,442.25 L375.65,443.02 L376.50,443.75 L377.38,444.46 L378.29,445.19 L379.22,445.90 L380.17,446.59 L381.13,447.24 L382.10,447.83 L383.05,448.34 L384.00,448.75 L384.93,449.04 L385.85,449.21 L386.76,449.30 L387.67,449.33 L388.60,449.33 L389.54,449.34 L390.50,449.39 L391.50,449.50 L392.55,449.69 L393.66,449.95 L394.80,450.24 L395.95,450.53 L397.10,450.81 L398.21,451.04 L399.27,451.19 L400.25,451.25 L401.16,451.20 L402.02,451.05 L402.83,450.83 L403.61,450.56 L404.36,450.27 L405.08,449.98 L405.80,449.72 L406.50,449.50 L407.13,449.30 L407.66,449.09 L408.14,448.88 L408.61,448.69 L409.13,448.51 L409.75,448.38 L410.52,448.28 L411.50,448.25 L412.70,448.30 L414.09,448.42 L415.62,448.59 L417.25,448.80 L418.95,449.01 L420.66,449.22 L422.36,449.39 L424.00,449.50 L425.60,449.56 L427.21,449.59 L428.84,449.59 L430.47,449.58 L432.10,449.55 L433.74,449.53 L435.37,449.51 L437.00,449.50" fill="none" stroke="#FF870A" stroke-width="2" stroke-linejoin="round" stroke-linecap="butt"/>
<line x1="163" x2="163" y1="307.5" y2="490" stroke="#FF870A" stroke-width="1.65"/>
<text transform="translate(176.30,307.60) rotate(-90)" text-anchor="end" font-size="15.5" fill="#FF870A" stroke="#FF870A" stroke-width="0.35">2.52</text>
<line x1="196" x2="196" y1="332" y2="490" stroke="#FF870A" stroke-width="1.65"/>
<text transform="translate(209.30,332.10) rotate(-90)" text-anchor="end" font-size="15.5" fill="#FF870A" stroke="#FF870A" stroke-width="0.35">2.13</text>
<line x1="247" x2="247" y1="332" y2="490" stroke="#FF870A" stroke-width="1.65"/>
<text transform="translate(260.30,332.10) rotate(-90)" text-anchor="end" font-size="15.5" fill="#FF870A" stroke="#FF870A" stroke-width="0.35">1.72</text>
<line x1="291.75" x2="291.75" y1="332" y2="490" stroke="#FF870A" stroke-width="1.65"/>
<text transform="translate(288.35,332.10) rotate(-90)" text-anchor="end" font-size="15.5" fill="#FF870A" stroke="#FF870A" stroke-width="0.35">1.47</text>
<line x1="302.5" x2="302.5" y1="332" y2="490" stroke="#FF870A" stroke-width="1.65"/>
<text transform="translate(315.80,332.10) rotate(-90)" text-anchor="end" font-size="15.5" fill="#FF870A" stroke="#FF870A" stroke-width="0.35">1.42</text>
<line x1="340.75" x2="340.75" y1="332" y2="490" stroke="#FF870A" stroke-width="1.65"/>
<text transform="translate(354.05,332.10) rotate(-90)" text-anchor="end" font-size="15.5" fill="#FF870A" stroke="#FF870A" stroke-width="0.35">1.27</text>
<line x1="361.5" x2="361.5" y1="332" y2="490" stroke="#FF870A" stroke-width="1.65"/>
<text transform="translate(374.80,332.10) rotate(-90)" text-anchor="end" font-size="15.5" fill="#FF870A" stroke="#FF870A" stroke-width="0.35">1.20</text>
<line x1="392.25" x2="392.25" y1="332" y2="490" stroke="#FF870A" stroke-width="1.65"/>
<text transform="translate(405.55,332.10) rotate(-90)" text-anchor="end" font-size="15.5" fill="#FF870A" stroke="#FF870A" stroke-width="0.35">1.11</text>
<line x1="411.5" x2="411.5" y1="332" y2="490" stroke="#FF870A" stroke-width="1.65"/>
<text transform="translate(424.80,332.10) rotate(-90)" text-anchor="end" font-size="15.5" fill="#FF870A" stroke="#FF870A" stroke-width="0.35">1.06</text>
</g>
<g stroke="#000" fill="none">
<line x1="51.9" x2="438.2" y1="13.95" y2="13.95" stroke-width="1.9"/>
<line x1="51.9" x2="438.2" y1="490.8" y2="490.8" stroke-width="1.9"/>
<line x1="52.9" x2="52.9" y1="13.95" y2="156.6" stroke-width="2.0"/>
<line x1="52.9" x2="52.9" y1="160.9" y2="285.6" stroke-width="2.0"/>
<line x1="52.9" x2="52.9" y1="290.2" y2="490.8" stroke-width="2.0"/>
<line x1="437.15" x2="437.15" y1="13.95" y2="156.6" stroke-width="2.1"/>
<line x1="437.15" x2="437.15" y1="160.9" y2="285.6" stroke-width="2.1"/>
<line x1="437.15" x2="437.15" y1="290.2" y2="490.8" stroke-width="2.1"/>
<line x1="47.1" x2="58.4" y1="153.5" y2="160.6" stroke-width="1.6"/>
<line x1="47.1" x2="58.4" y1="157.5" y2="164.6" stroke-width="1.6"/>
<line x1="47.1" x2="58.4" y1="282.9" y2="290.0" stroke-width="1.6"/>
<line x1="47.1" x2="58.4" y1="286.6" y2="293.70000000000005" stroke-width="1.6"/>
<line x1="431.34999999999997" x2="442.65" y1="153.5" y2="160.6" stroke-width="1.6"/>
<line x1="431.34999999999997" x2="442.65" y1="157.5" y2="164.6" stroke-width="1.6"/>
<line x1="431.34999999999997" x2="442.65" y1="282.9" y2="290.0" stroke-width="1.6"/>
<line x1="431.34999999999997" x2="442.65" y1="286.6" y2="293.70000000000005" stroke-width="1.6"/>
<line x1="58.67" x2="58.67" y1="13.95" y2="19.45" stroke-width="1.7"/>
<line x1="58.67" x2="58.67" y1="490.8" y2="496.3" stroke-width="1.7"/>
<line x1="73.80" x2="73.80" y1="13.95" y2="17.55" stroke-width="1.7"/>
<line x1="73.80" x2="73.80" y1="490.8" y2="494.40000000000003" stroke-width="1.7"/>
<line x1="96.50" x2="96.50" y1="13.95" y2="19.45" stroke-width="1.7"/>
<line x1="96.50" x2="96.50" y1="490.8" y2="496.3" stroke-width="1.7"/>
<line x1="134.33" x2="134.33" y1="13.95" y2="17.55" stroke-width="1.7"/>
<line x1="134.33" x2="134.33" y1="490.8" y2="494.40000000000003" stroke-width="1.7"/>
<line x1="210.00" x2="210.00" y1="13.95" y2="19.45" stroke-width="1.7"/>
<line x1="210.00" x2="210.00" y1="490.8" y2="496.3" stroke-width="1.7"/>
<line x1="437.15" x2="437.15" y1="490.8" y2="494.40000000000003" stroke-width="2"/>
<line x1="46.90" x2="52.9" y1="13.95" y2="13.95" stroke-width="1.9"/>
<line x1="49.10" x2="52.9" y1="67.40" y2="67.40" stroke-width="1.7"/>
<line x1="433.85" x2="437.15" y1="67.40" y2="67.40" stroke-width="1.7"/>
<line x1="46.90" x2="52.9" y1="120.30" y2="120.30" stroke-width="1.7"/>
<line x1="431.65" x2="437.15" y1="120.30" y2="120.30" stroke-width="1.7"/>
<line x1="49.10" x2="52.9" y1="173.20" y2="173.20" stroke-width="1.7"/>
<line x1="433.85" x2="437.15" y1="173.20" y2="173.20" stroke-width="1.7"/>
<line x1="46.90" x2="52.9" y1="226.10" y2="226.10" stroke-width="1.7"/>
<line x1="431.65" x2="437.15" y1="226.10" y2="226.10" stroke-width="1.7"/>
<line x1="49.10" x2="52.9" y1="279.00" y2="279.00" stroke-width="1.7"/>
<line x1="433.85" x2="437.15" y1="279.00" y2="279.00" stroke-width="1.7"/>
<line x1="46.90" x2="52.9" y1="331.90" y2="331.90" stroke-width="1.7"/>
<line x1="431.65" x2="437.15" y1="331.90" y2="331.90" stroke-width="1.7"/>
<line x1="49.10" x2="52.9" y1="384.80" y2="384.80" stroke-width="1.7"/>
<line x1="433.85" x2="437.15" y1="384.80" y2="384.80" stroke-width="1.7"/>
<line x1="46.90" x2="52.9" y1="437.70" y2="437.70" stroke-width="1.7"/>
<line x1="431.65" x2="437.15" y1="437.70" y2="437.70" stroke-width="1.7"/>
<line x1="49.10" x2="52.9" y1="490.80" y2="490.80" stroke-width="1.9"/>
</g>
<text x="58.67" y="511.4" font-size="16.5" text-anchor="middle" fill="#000" stroke="#000" stroke-width="0.3">6</text>
<text x="96.50" y="511.4" font-size="16.5" text-anchor="middle" fill="#000" stroke="#000" stroke-width="0.3">4</text>
<text x="210.00" y="511.4" font-size="16.5" text-anchor="middle" fill="#000" stroke="#000" stroke-width="0.3">2</text>
<text x="437.00" y="511.4" font-size="16.5" text-anchor="middle" fill="#000" stroke="#000" stroke-width="0.3">1</text>
<text x="247.5" y="540.5" font-size="22" text-anchor="middle" fill="#000" stroke="#000" stroke-width="0.3">d / Å</text>
<text transform="translate(24.5,325) rotate(-90)" font-size="22" fill="#000" stroke="#000" stroke-width="0.3">norm. Intensity</text>
<line x1="309.3" x2="344.9" y1="30.00" y2="30.00" stroke="#1409B0" stroke-width="1.9"/>
<text x="349" y="35.40" font-size="14.7" fill="#000" stroke="#000" stroke-width="0.25">MoS<tspan dy="3.4" font-size="11">2.6</tspan></text>
<line x1="309.3" x2="344.9" y1="48.85" y2="48.85" stroke="#0F8CFA" stroke-width="1.9"/>
<text x="349" y="54.25" font-size="14.7" fill="#000" stroke="#000" stroke-width="0.25">MoS<tspan dy="3.4" font-size="11">3.4</tspan></text>
<line x1="309.3" x2="344.9" y1="67.70" y2="67.70" stroke="#FF870A" stroke-width="1.9"/>
<text x="349" y="73.10" font-size="14.7" fill="#000" stroke="#000" stroke-width="0.25">MoS<tspan dy="3.4" font-size="11">2</tspan></text>
</svg>
</body></html>
